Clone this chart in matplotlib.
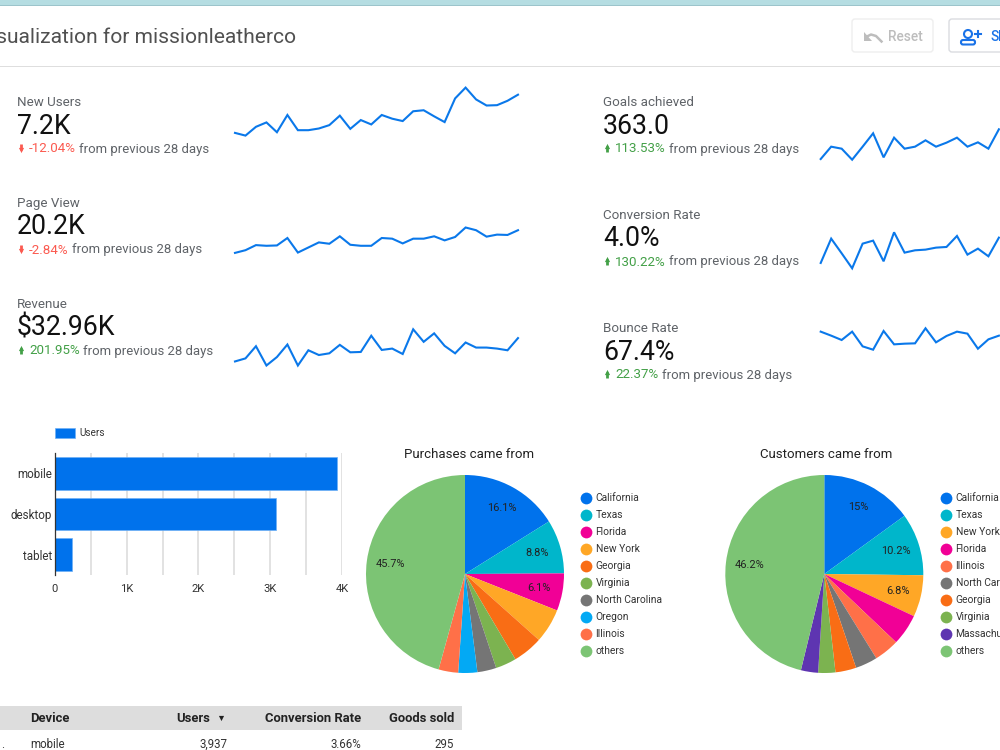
import matplotlib
matplotlib.use("Agg")
import matplotlib.pyplot as plt
from matplotlib.patches import Circle, FancyBboxPatch, Polygon, Rectangle

plt.rcParams["font.family"] = ["Roboto", "DejaVu Sans"]

# sparkline values (relative units, no scale shown)
new_users = [8, 0, 26, 39, 10, 61, 16, 16, 21, 31, 59, 20, 46, 33, 61, 50, 43, 72, 75, 57, 40, 110, 142, 107, 89, 90, 103, 121]
page_view = [0, 8, 23, 21, 22, 44, 1, 16, 31, 27, 49, 24, 21, 21, 44, 42, 28, 42, 42, 49, 37, 47, 75, 67, 48, 54, 53, 67]
revenue = [12, 21, 57, 0, 25, 62, 0, 45, 31, 36, 61, 39, 40, 88, 46, 50, 34, 107, 70, 95, 58, 36, 68, 53, 53, 50, 45, 81]
goals = [2, 39, 33, 0, 39, 79, 7, 66, 33, 39, 58, 39, 51, 66, 39, 52, 33, 91]
conversion = [16, 89, 45, 0, 74, 83, 21, 108, 47, 54, 56, 62, 64, 97, 41, 59, 36, 92]
bounce = [54, 42, 29, 54, 10, 0, 56, 16, 18, 19, 64, 22, 41, 54, 48, 3, 31, 42]

devices = ["mobile", "desktop", "tablet"]
device_users = [3937, 3075, 240]

purchase_states = ["California", "Texas", "Florida", "New York", "Georgia", "Virginia", "North Carolina", "Oregon", "Illinois", "others"]
purchase_share = [16.1, 8.8, 6.1, 5.6, 4.9, 3.4, 3.1, 3.1, 3.2, 45.7]
customer_states = ["California", "Texas", "New York", "Florida", "Illinois", "North Carolina", "Georgia", "Virginia", "Massachusetts", "others"]
customer_share = [15, 10.2, 6.8, 5.1, 4.1, 3.6, 3.4, 2.8, 2.8, 46.2]

state_colors = {
    "California": "#0072ec", "Texas": "#00b6cb", "Florida": "#f10096", "New York": "#ffa726",
    "Georgia": "#f96d15", "Virginia": "#7cb350", "North Carolina": "#757575", "Oregon": "#03a9f4",
    "Illinois": "#ff7048", "Massachusetts": "#5e35b1", "others": "#7cc474",
}

BLUE = "#0a78ea"
GREY = "#5f6368"
RED = "#fb5a50"
GREEN = "#43a047"
W, H = 1000, 750

fig = plt.figure(figsize=(10, 7.5), dpi=100, facecolor="white")


def px_axes(x0, y0, x1, y1):
    return fig.add_axes([x0 / W, 1 - y1 / H, (x1 - x0) / W, (y1 - y0) / H])


# overlay in pixel units for the dashboard furniture and text
ov = fig.add_axes([0, 0, 1, 1], zorder=5)
ov.set_xlim(0, W)
ov.set_ylim(H, 0)
ov.axis("off")
ov.patch.set_alpha(0)

# top strip and header
ov.add_patch(Rectangle((0, 0), W, 5, color="#b5dde2", lw=0))
ov.add_patch(Rectangle((0, 4.5), W, 1.2, color="#9cc4cb", lw=0))
ov.add_patch(Rectangle((0, 65.5), W, 1.6, color="#dedede", lw=0))
ov.text(296, 37.5, "Data Visualization for missionleatherco", ha="right", va="center", fontsize=15.15, color="#505050")

# reset button
ov.add_patch(FancyBboxPatch((854, 21), 77, 29, boxstyle="round,pad=2,rounding_size=3", fc="white", ec="#eeeeee", lw=1))
ov.add_patch(Polygon([(863.5, 32), (863.5, 41), (872, 41)], color="#bdbdbd", lw=0))
ov.plot([866, 871, 876, 881.5], [37, 34.5, 36, 41.5], color="#bdbdbd", lw=1.8)
ov.text(888, 37, "Reset", ha="left", va="center", fontsize=9.8, color="#bdbdbd", fontweight="medium")

# share button, cut by the picture edge
ov.add_patch(FancyBboxPatch((951, 21), 70, 29, boxstyle="round,pad=2,rounding_size=3", fc="white", ec="#dadce0", lw=1))
ov.add_patch(Circle((968, 34), 4, fc="none", ec="#1a73e8", lw=1.5))
ov.add_patch(FancyBboxPatch((962, 41), 12, 2.5, boxstyle="round,pad=1,rounding_size=2", fc="none", ec="#1a73e8", lw=1.5))
ov.plot([975, 981], [34, 34], color="#1a73e8", lw=1.5)
ov.plot([978, 978], [31, 37], color="#1a73e8", lw=1.5)
ov.text(990.5, 37, "Share", ha="left", va="center", fontsize=9.8, color="#1a73e8", fontweight="medium")


def scorecard(x, y, label, value, delta, up, from_x):
    ov.text(x, y + 1.5, label, ha="left", va="center", fontsize=9.6, color=GREY)
    ov.text(x, y + 25, value, ha="left", va="center", fontsize=19.2, color="#111111")
    color = GREEN if up else RED
    ax_ = x + 4
    ay = y + 47
    ov.plot([ax_, ax_], [ay - 2, ay + 4] if up else [ay - 4, ay + 2], color=color, lw=2, solid_capstyle="butt")
    ov.scatter([ax_], [ay - 2 if up else ay + 2], marker="^" if up else "v", s=14, color=color, lw=0)
    ov.text(x + 12, ay + 4.5, delta, ha="left", va="baseline", fontsize=9.6, color=color)
    ov.text(from_x, ay + 4.5, "from previous 28 days", ha="left", va="baseline", fontsize=9.45, color=GREY)


def spark(series, x0, x1, top, bottom):
    ax = px_axes(x0, top, x1, bottom)
    ax.plot(range(len(series)), series, color=BLUE, lw=1.5, clip_on=False, solid_joinstyle="miter")
    ax.set_xlim(0, len(series) - 1)
    ax.set_ylim(min(series), max(series))
    ax.axis("off")


scorecard(17, 101, "New Users", "7.2K", "-12.04%", False, 79)
scorecard(17, 202, "Page View", "20.2K", "-2.84%", False, 72)
scorecard(17, 303, "Revenue", "$32.96K", "201.95%", True, 83)
scorecard(603, 101, "Goals achieved", "363.0", "113.53%", True, 669)
scorecard(603, 214, "Conversion Rate", "4.0%", "130.22%", True, 669)
scorecard(603, 327, "Bounce Rate", "67.4%", "22.37%", True, 661.5)

spark(new_users, 235, 518, 87.6, 135.6)
spark(page_view, 235, 518, 227.5, 252.9)
spark(revenue, 235, 518, 329.3, 365.5)
spark(goals, 820.7, 998.9, 129.3, 159.7)
spark(conversion, 820.7, 998.9, 232.3, 268.3)
spark(bounce, 820.7, 998.9, 328.3, 349.7)

# device bars
bar_ax = px_axes(55, 453, 342, 575)
bar_ax.barh(devices, device_users, height=0.8, color="#0072ec", edgecolor="#6fb0f5", linewidth=0.5, zorder=3)
bar_ax.set_xlim(0, 4000)
bar_ax.set_ylim(2.5, -0.5)
bar_ax.set_xticks(range(500, 4001, 500))
bar_ax.set_xticklabels([])
bar_ax.grid(axis="x", color="#dddddd", lw=1.2, zorder=0)
bar_ax.tick_params(axis="both", length=0)
bar_ax.tick_params(axis="y", labelsize=8.4, labelcolor="#333333", pad=2.2)
plt.setp(bar_ax.get_yticklabels(), va="center_baseline")
for side in ["top", "right", "bottom"]:
    bar_ax.spines[side].set_visible(False)
bar_ax.spines["left"].set_color("#333333")
bar_ax.spines["left"].set_linewidth(0.9)
bar_ax.spines["left"].set_zorder(4)
for v, lab in zip([0, 1000, 2000, 3000, 4000], ["0", "1K", "2K", "3K", "4K"]):
    bar_ax.annotate(lab, xy=(v, 0), xycoords=bar_ax.get_xaxis_transform(), xytext=(0, -10.2),
                    textcoords="offset points", ha="center", va="center", fontsize=8.1, color="#333333", annotation_clip=False)
ov.add_patch(Rectangle((55, 427.5), 20, 10, fc="#0072ec", ec="#6fb0f5", lw=0.5))
ov.text(79, 433, "Users", ha="left", va="center", fontsize=7.2, color="#333333")


def pct_label(p):
    if p < 6:
        return ""
    return f"{p:.1f}".rstrip("0").rstrip(".") + "%"


def state_pie(states, shares, cx, title, title_x, legend_x):
    cy, r = 574, 99
    ax = px_axes(cx - r, cy - r, cx + r, cy + r)
    ax.pie(shares, colors=[state_colors[s] for s in states], startangle=90, counterclock=False,
           radius=1, autopct=pct_label, pctdistance=0.76,
           textprops={"fontsize": 7.9, "color": "#222222"})
    ax.set_xlim(-1, 1)
    ax.set_ylim(-1, 1)
    ov.text(title_x, 454, title, ha="center", va="center", fontsize=9.5, color="#222222")
    for i, s in enumerate(states):
        y = 497.7 + i * 17
        ov.scatter([legend_x], [y], s=72, color=state_colors[s], lw=0)
        ov.text(legend_x + 9.5, y, s, ha="left", va="center", fontsize=7.4, color="#333333")


state_pie(purchase_states, purchase_share, 465, "Purchases came from", 469, 586)
state_pie(customer_states, customer_share, 824.3, "Customers came from", 826, 946)

# table header and first row
ov.add_patch(Rectangle((0, 706), 462, 24, color="#dddddd", lw=0))
ov.text(30, 719, "Device", ha="left", va="center", fontsize=9.4, fontweight="bold", color="#222222")
ov.text(210, 719, "Users", ha="right", va="center", fontsize=9.4, fontweight="bold", color="#222222")
ov.scatter([220.5], [717.5], marker="v", s=14, color="#222222", lw=0)
ov.text(361, 719, "Conversion Rate", ha="right", va="center", fontsize=9.4, fontweight="bold", color="#222222")
ov.text(454, 719, "Goods sold", ha="right", va="center", fontsize=9.4, fontweight="bold", color="#222222")
ov.text(3, 744, ".", ha="center", va="center", fontsize=8.4, color="#333333")
ov.text(30, 744, "mobile", ha="left", va="center", fontsize=8.3, color="#333333")
ov.text(227, 744, "3,937", ha="right", va="center", fontsize=8.3, color="#333333")
ov.text(361, 744, "3.66%", ha="right", va="center", fontsize=8.3, color="#333333")
ov.text(454, 744, "295", ha="right", va="center", fontsize=8.3, color="#333333")

fig.savefig("out.png", dpi=100)
